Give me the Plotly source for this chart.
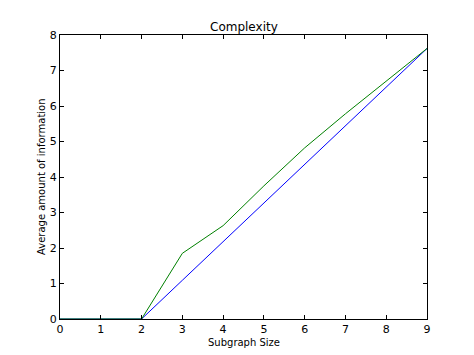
import plotly.graph_objects as go

x_vals = [0, 1, 2, 3, 4, 5, 6, 7, 8, 9]
blue_vals = [0, 0, 0, 1.09, 2.18, 3.27, 4.35, 5.44, 6.53, 7.62]
green_vals = [0, 0, 0, 1.85, 2.63, 3.75, 4.82, 5.78, 6.70, 7.62]
x_ticks = [0, 1, 2, 3, 4, 5, 6, 7, 8, 9]
y_ticks = [0, 1, 2, 3, 4, 5, 6, 7, 8]

fig = go.Figure()
fig.add_trace(go.Scatter(x=x_vals, y=blue_vals, mode="lines",
                         line=dict(color="#0000ff", width=1), showlegend=False))
fig.add_trace(go.Scatter(x=x_vals, y=green_vals, mode="lines",
                         line=dict(color="#008000", width=1), showlegend=False))

tick_font = dict(family="DejaVu Sans", size=11, color="black")
lab_font = dict(family="DejaVu Sans", size=10, color="black")
axis_common = dict(showgrid=False, zeroline=False, showline=True, linecolor="black",
                   linewidth=1, mirror="ticks", ticks="inside", ticklen=4,
                   tickcolor="black", tickfont=tick_font, automargin=False)
# page body has an 8px default margin, so the figure is 8px smaller and offset
fig.update_layout(
    width=466, height=347,
    margin=dict(l=52, r=47, t=27, b=36),
    paper_bgcolor="white", plot_bgcolor="white",
    font=tick_font,
    xaxis=dict(range=[0, 9], tickvals=x_ticks, ticktext=[str(t) for t in x_ticks],
               **axis_common),
    yaxis=dict(range=[0, 8], tickvals=y_ticks, ticktext=[str(t) for t in y_ticks],
               **axis_common),
    annotations=[
        dict(text="Complexity", xref="paper", yref="paper", x=0.5, y=1,
             xanchor="center", yanchor="middle", yshift=8, showarrow=False,
             font=dict(family="DejaVu Sans", size=12, color="black")),
        dict(text="Subgraph Size", xref="paper", yref="paper", x=0.5, y=0,
             xanchor="center", yanchor="middle", yshift=-23, showarrow=False,
             font=lab_font),
        dict(text="Average amount of information", xref="paper", yref="paper",
             x=0, y=0.5, xanchor="center", yanchor="middle", xshift=-19,
             textangle=-90, showarrow=False, font=lab_font),
    ],
)
fig.write_html("out.html")
